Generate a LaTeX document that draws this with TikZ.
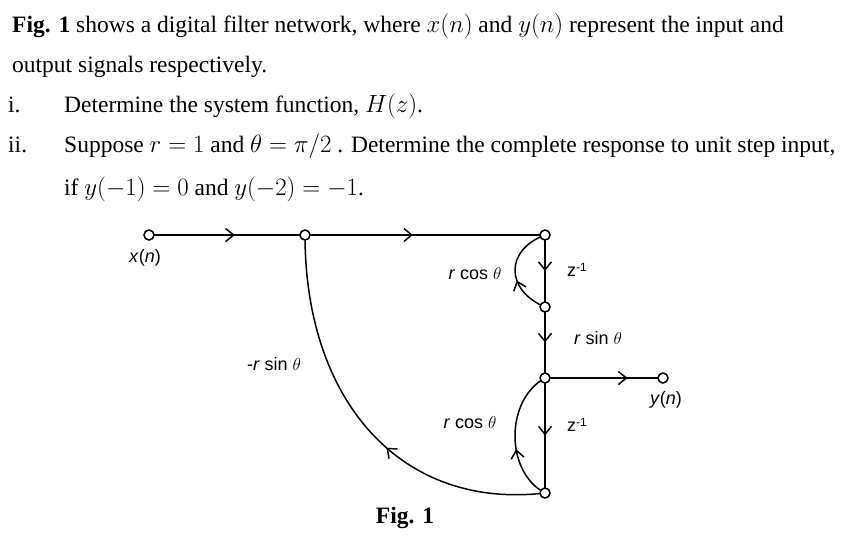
\documentclass[tikz,border=0pt]{standalone}
\usepackage{fontspec}
\setmainfont{Liberation Serif}
\newfontfamily\lab{Liberation Sans}
\usetikzlibrary{arrows.meta,decorations.markings}
\tikzset{
 pt/.style={circle,draw,fill=white,inner sep=0pt,minimum size=10pt,line width=1.5pt},
 ln/.style={line width=1.5pt},
 mid/.style={ln,postaction={decorate},decoration={markings,mark=at position #1 with {\arrow{Straight Barb[length=8pt,width=13pt,line width=1.5pt]}}}},
 lb/.style={font=\lab\fontsize{18}{21}\selectfont,inner sep=1pt},
 tx/.style={anchor=base west,inner sep=0pt,font=\fontsize{23.5}{28}\selectfont}
}
\begin{document}
\begin{tikzpicture}[x=1pt,y=-1pt]
\useasboundingbox (0,0) rectangle (846,542);
\node[tx] (t1) at (12,32) {\textbf{Fig. 1} shows a digital filter network, where $x(n)$ and $y(n)$ represent the input and};
\node[tx] (t2) at (12,72) {output signals respectively.};
\node[tx] (t3a) at (8,112) {i.};
\node[tx] (t3) at (64,112) {Determine the system function, $H(z)$.};
\node[tx] (t4a) at (8,152) {ii.};
\node[tx] (t4) at (64,152) {Suppose $r=1$ and $\theta=\pi/2$ . Determine the complete response to unit step input,};
\node[tx] (t5) at (64,195) {if $y(-1)=0$ and $y(-2)=-1$.};
\node[tx,anchor=base] (fig) at (405,523) {\textbf{Fig. 1}};

\coordinate (X) at (149,235);
\coordinate (A) at (305,235);
\coordinate (B) at (545,235);
\coordinate (C) at (545,307);
\coordinate (D) at (545,378);
\coordinate (E) at (545,493);
\coordinate (Y) at (663,378);

\draw[mid=0.55] (X) -- (A);
\draw[mid=0.45] (A) -- (B);
\draw[mid=0.5] (B) -- (C);
\draw[mid=0.5] (C) -- (D);
\draw[mid=0.5] (D) -- (E);
\draw[mid=0.7] (D) -- (Y);
\draw[mid=0.4] (C) .. controls (505,290) and (505,250) .. (B);
\draw[mid=0.4] (E) .. controls (505,472) and (505,400) .. (D);
\draw[mid=0.42] (E) .. controls (400,510) and (305,400) .. (A);

\foreach \p in {X,A,B,C,D,E,Y} \node[pt] (n\p) at (\p) {};

\node[lb] (lx) at (145,258) {\textit{x}(\textit{n})};
\node[lb] (ly) at (666,400) {\textit{y}(\textit{n})};
\node[lb] (l1) at (475,274) {\textit{r} cos $\theta$};
\node[lb] (l2) at (577,270) {z\raisebox{0.6ex}{\fontsize{12}{14}\selectfont -1}};
\node[lb] (l3) at (598,338) {\textit{r} sin $\theta$};
\node[lb] (l4) at (274,364) {-\textit{r} sin $\theta$};
\node[lb] (l5) at (470,423) {\textit{r} cos $\theta$};
\node[lb] (l6) at (577,425) {z\raisebox{0.6ex}{\fontsize{12}{14}\selectfont -1}};
\end{tikzpicture}
\end{document}
